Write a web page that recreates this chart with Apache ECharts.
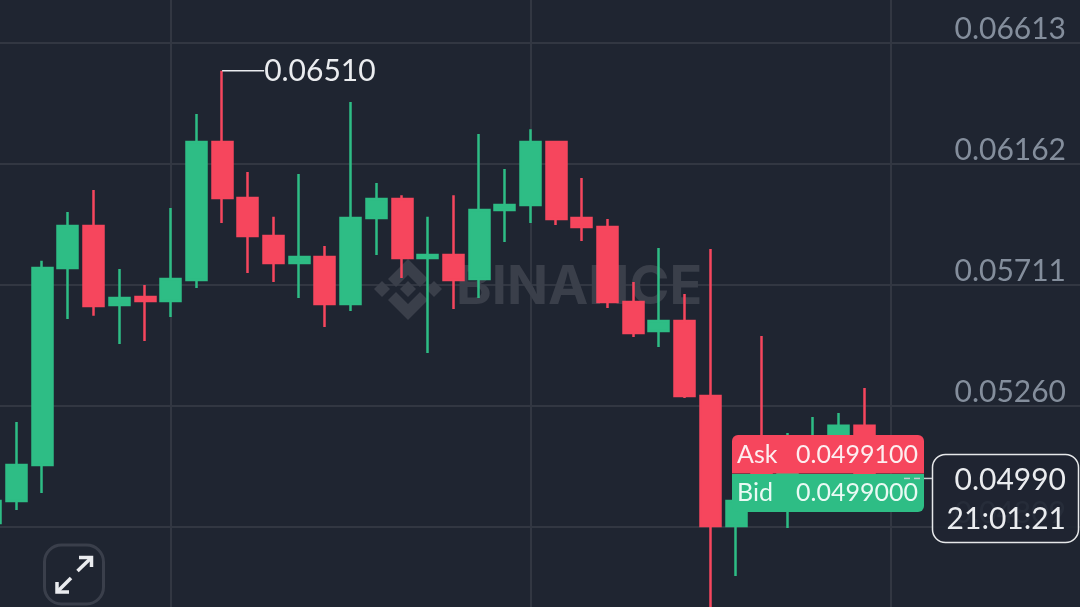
<!DOCTYPE html>
<html>
<head>
<meta charset="utf-8">
<title>Binance candles</title>
<script src="https://cdn.jsdelivr.net/npm/echarts@6/dist/echarts.min.js"></script>
<style>
html, body { margin: 0; padding: 0; background: #1f2531; width: 1080px; height: 607px; overflow: hidden; }
/* the chart starts left of the window so the first candle is cut off */
#main { position: absolute; left: -22px; top: 0; width: 1105px; height: 607px; }
</style>
</head>
<body>
<div id="main"></div>
<script>
// open, close, low, high
var candles = [
    [0.04824, 0.04906, 0.04798, 0.04947],
    [0.04906, 0.05040, 0.04872, 0.05200],
    [0.05040, 0.05774, 0.04936, 0.05801],
    [0.05774, 0.05931, 0.05584, 0.05983],
    [0.05931, 0.05633, 0.05596, 0.06065],
    [0.05636, 0.05663, 0.05491, 0.05771],
    [0.05666, 0.05651, 0.05502, 0.05711],
    [0.05651, 0.05733, 0.05592, 0.05998],
    [0.05730, 0.06244, 0.05700, 0.06348],
    [0.06244, 0.06035, 0.05942, 0.06510],
    [0.06035, 0.05894, 0.05756, 0.06132],
    [0.05894, 0.05793, 0.05722, 0.05965],
    [0.05793, 0.05815, 0.05663, 0.06125],
    [0.05815, 0.05640, 0.05554, 0.05856],
    [0.05640, 0.05961, 0.05614, 0.06393],
    [0.05961, 0.06032, 0.05823, 0.06091],
    [0.06032, 0.05812, 0.05737, 0.06046],
    [0.05812, 0.05823, 0.05458, 0.05965],
    [0.05823, 0.05730, 0.05622, 0.06046],
    [0.05733, 0.05991, 0.05663, 0.06274],
    [0.05991, 0.06009, 0.05871, 0.06143],
    [0.06009, 0.06244, 0.05942, 0.06292],
    [0.06244, 0.05957, 0.05935, 0.06248],
    [0.05961, 0.05927, 0.05875, 0.06110],
    [0.05927, 0.05648, 0.05625, 0.05957],
    [0.05648, 0.05532, 0.05517, 0.05722],
    [0.05540, 0.05577, 0.05480, 0.05849],
    [0.05577, 0.05297, 0.05290, 0.05677],
    [0.05297, 0.04813, 0.04444, 0.05845],
    [0.04813, 0.04906, 0.04626, 0.04928],
    [0.05051, 0.04954, 0.04910, 0.05521],
    [0.04947, 0.05096, 0.04805, 0.05159],
    [0.05088, 0.05118, 0.05040, 0.05219],
    [0.05118, 0.05186, 0.05077, 0.05234],
    [0.05186, 0.04990, 0.04977, 0.05327]
];
var categories = ['1','2','3','4','5','6','7','8','9','10','11','12','13','14','15','16','17','18','19','20','21','22',
    '23','24','25','26','27','28','29','30','31','32','33','34','35','36','37','38','39','40','41','42','43'];
var priceTicks = [0.04809, 0.05260, 0.05711, 0.06162, 0.06613];
var timeLineIdx = [7, 21, 35];
var highIdx = 9;
var highValue = 0.06510;
var lastPrice = 0.04990;
var askText = '0.0499100';
var bidText = '0.0499000';
var countdown = '21:01:21';

var bg = '#1f2531';
var up = '#2ebd85';
var down = '#f6465d';
var gridColor = '#323742';
var wmColor = '#3a3f4a';
var font = 'Lato';
var shiftX = 22;

var chart = echarts.init(document.getElementById('main'), null, { renderer: 'canvas' });

chart.setOption({
    backgroundColor: bg,
    animation: false,
    grid: { left: 0, right: 0, top: 0, bottom: 0 },
    xAxis: {
        type: 'category',
        data: categories,
        boundaryGap: true,
        axisLine: { show: false },
        axisTick: { show: false, alignWithLabel: true },
        axisLabel: { show: false },
        splitLine: {
            show: true,
            alignWithLabel: true,
            interval: function (idx) { return timeLineIdx.indexOf(idx) >= 0; },
            lineStyle: { color: gridColor, width: 2 }
        }
    },
    yAxis: {
        type: 'value',
        position: 'right',
        min: 0.045108,
        max: 0.067733,
        axisLine: { show: false },
        axisTick: { show: false, customValues: priceTicks },
        axisLabel: {
            inside: true,
            margin: 17,
            customValues: priceTicks,
            color: '#848e9c',
            fontFamily: font,
            fontSize: 30,
            lineHeight: 28,
            verticalAlign: 'bottom',
            formatter: function (v) { return v.toFixed(5); }
        },
        splitLine: { show: true, lineStyle: { color: gridColor, width: 2 } }
    },
    series: [{
        type: 'candlestick',
        data: candles,
        barWidth: 20.5,
        itemStyle: { color: up, color0: down, borderColor: up, borderColor0: down, borderWidth: 2.5 }
    }]
});

// overlays that hang off the price scale, in window pixels
function px(idx, val) {
    var p = chart.convertToPixel({ gridIndex: 0 }, [idx, val]);
    return [p[0] - shiftX, p[1]];
}
var hi = px(highIdx, highValue);
var last = px(33, lastPrice);

function txt(x, y, s, color, size, align) {
    return { type: 'text', z: 30, style: { x: x, y: y, text: s, fill: color, fontFamily: font, fontSize: size, textAlign: align || 'left', textVerticalAlign: 'middle' } };
}
function seg(pts, color, w, z) {
    return { type: 'polyline', z: z || 30, shape: { points: pts }, style: { stroke: color, lineWidth: w, fill: null } };
}

chart.setOption({
    graphic: [{
        type: 'group',
        x: shiftX,
        y: 0,
        children: [
            // watermark
            { type: 'text', z: 1, style: { x: 456, y: 288, text: 'BINANCE', fill: wmColor, fontFamily: 'Inter', fontWeight: 700, fontSize: 54, textVerticalAlign: 'middle' } },
            { type: 'polygon', z: 1, shape: { points: [[408, 281], [416, 289], [408, 297], [400, 289]] }, style: { fill: wmColor } },
            { type: 'polygon', z: 1, shape: { points: [[382, 281], [390, 289], [382, 297], [374, 289]] }, style: { fill: wmColor } },
            { type: 'polygon', z: 1, shape: { points: [[434, 281], [442, 289], [434, 297], [426, 289]] }, style: { fill: wmColor } },
            { type: 'polygon', z: 1, shape: { points: [[408, 259], [428, 279], [420, 287], [408, 275], [396, 287], [388, 279]] }, style: { fill: wmColor } },
            { type: 'polygon', z: 1, shape: { points: [[408, 320], [428, 300], [420, 292], [408, 304], [396, 292], [388, 300]] }, style: { fill: wmColor } },

            // high callout
            seg([[hi[0], hi[1]], [hi[0] + 42, hi[1]]], '#eaecef', 1.5),
            txt(hi[0] + 42, hi[1] + 1, highValue.toFixed(5), '#eaecef', 30),

            // last price dashes
            seg([[904, last[1]], [910, last[1]]], '#c8ccd2', 1.5, 40),
            seg([[914, last[1]], [920, last[1]]], '#c8ccd2', 1.5, 40),
            seg([[924, last[1]], [932, last[1]]], '#c8ccd2', 1.5, 40),

            // ask / bid box
            { type: 'rect', z: 25, shape: { x: 732, y: 435, width: 192, height: 38.5, r: [6, 6, 0, 0] }, style: { fill: down } },
            { type: 'rect', z: 25, shape: { x: 732, y: 474, width: 192, height: 38, r: [0, 0, 6, 6] }, style: { fill: up } },
            txt(737, 455, 'Ask', '#fdeef0', 25),
            txt(918, 455, askText, '#fdeef0', 25, 'right'),
            txt(737, 493, 'Bid', '#eafaf4', 25),
            txt(918, 493, bidText, '#eafaf4', 25, 'right'),

            // countdown box
            { type: 'rect', z: 25, shape: { x: 932.5, y: 454.5, width: 146, height: 88, r: 13 }, style: { fill: 'rgba(31,37,49,0.93)', stroke: '#e6e8ea', lineWidth: 1.5 } },
            txt(1066, 480, lastPrice.toFixed(5), '#eaecef', 30, 'right'),
            txt(1066, 519, countdown, '#eaecef', 30, 'right'),

            // fullscreen button
            { type: 'rect', z: 25, shape: { x: 44.5, y: 545, width: 59, height: 59, r: 17 }, style: { fill: bg, stroke: '#3a3f4b', lineWidth: 3 } },
            seg([[77.5, 571], [91, 558]], '#eaecef', 3.5),
            seg([[79, 557.5], [91.5, 557.5], [91.5, 567]], '#eaecef', 3.5),
            seg([[71, 578], [57.5, 591.5]], '#eaecef', 3.5),
            seg([[57, 582], [57, 592], [69, 592]], '#eaecef', 3.5)
        ]
    }]
});
</script>
</body>
</html>
